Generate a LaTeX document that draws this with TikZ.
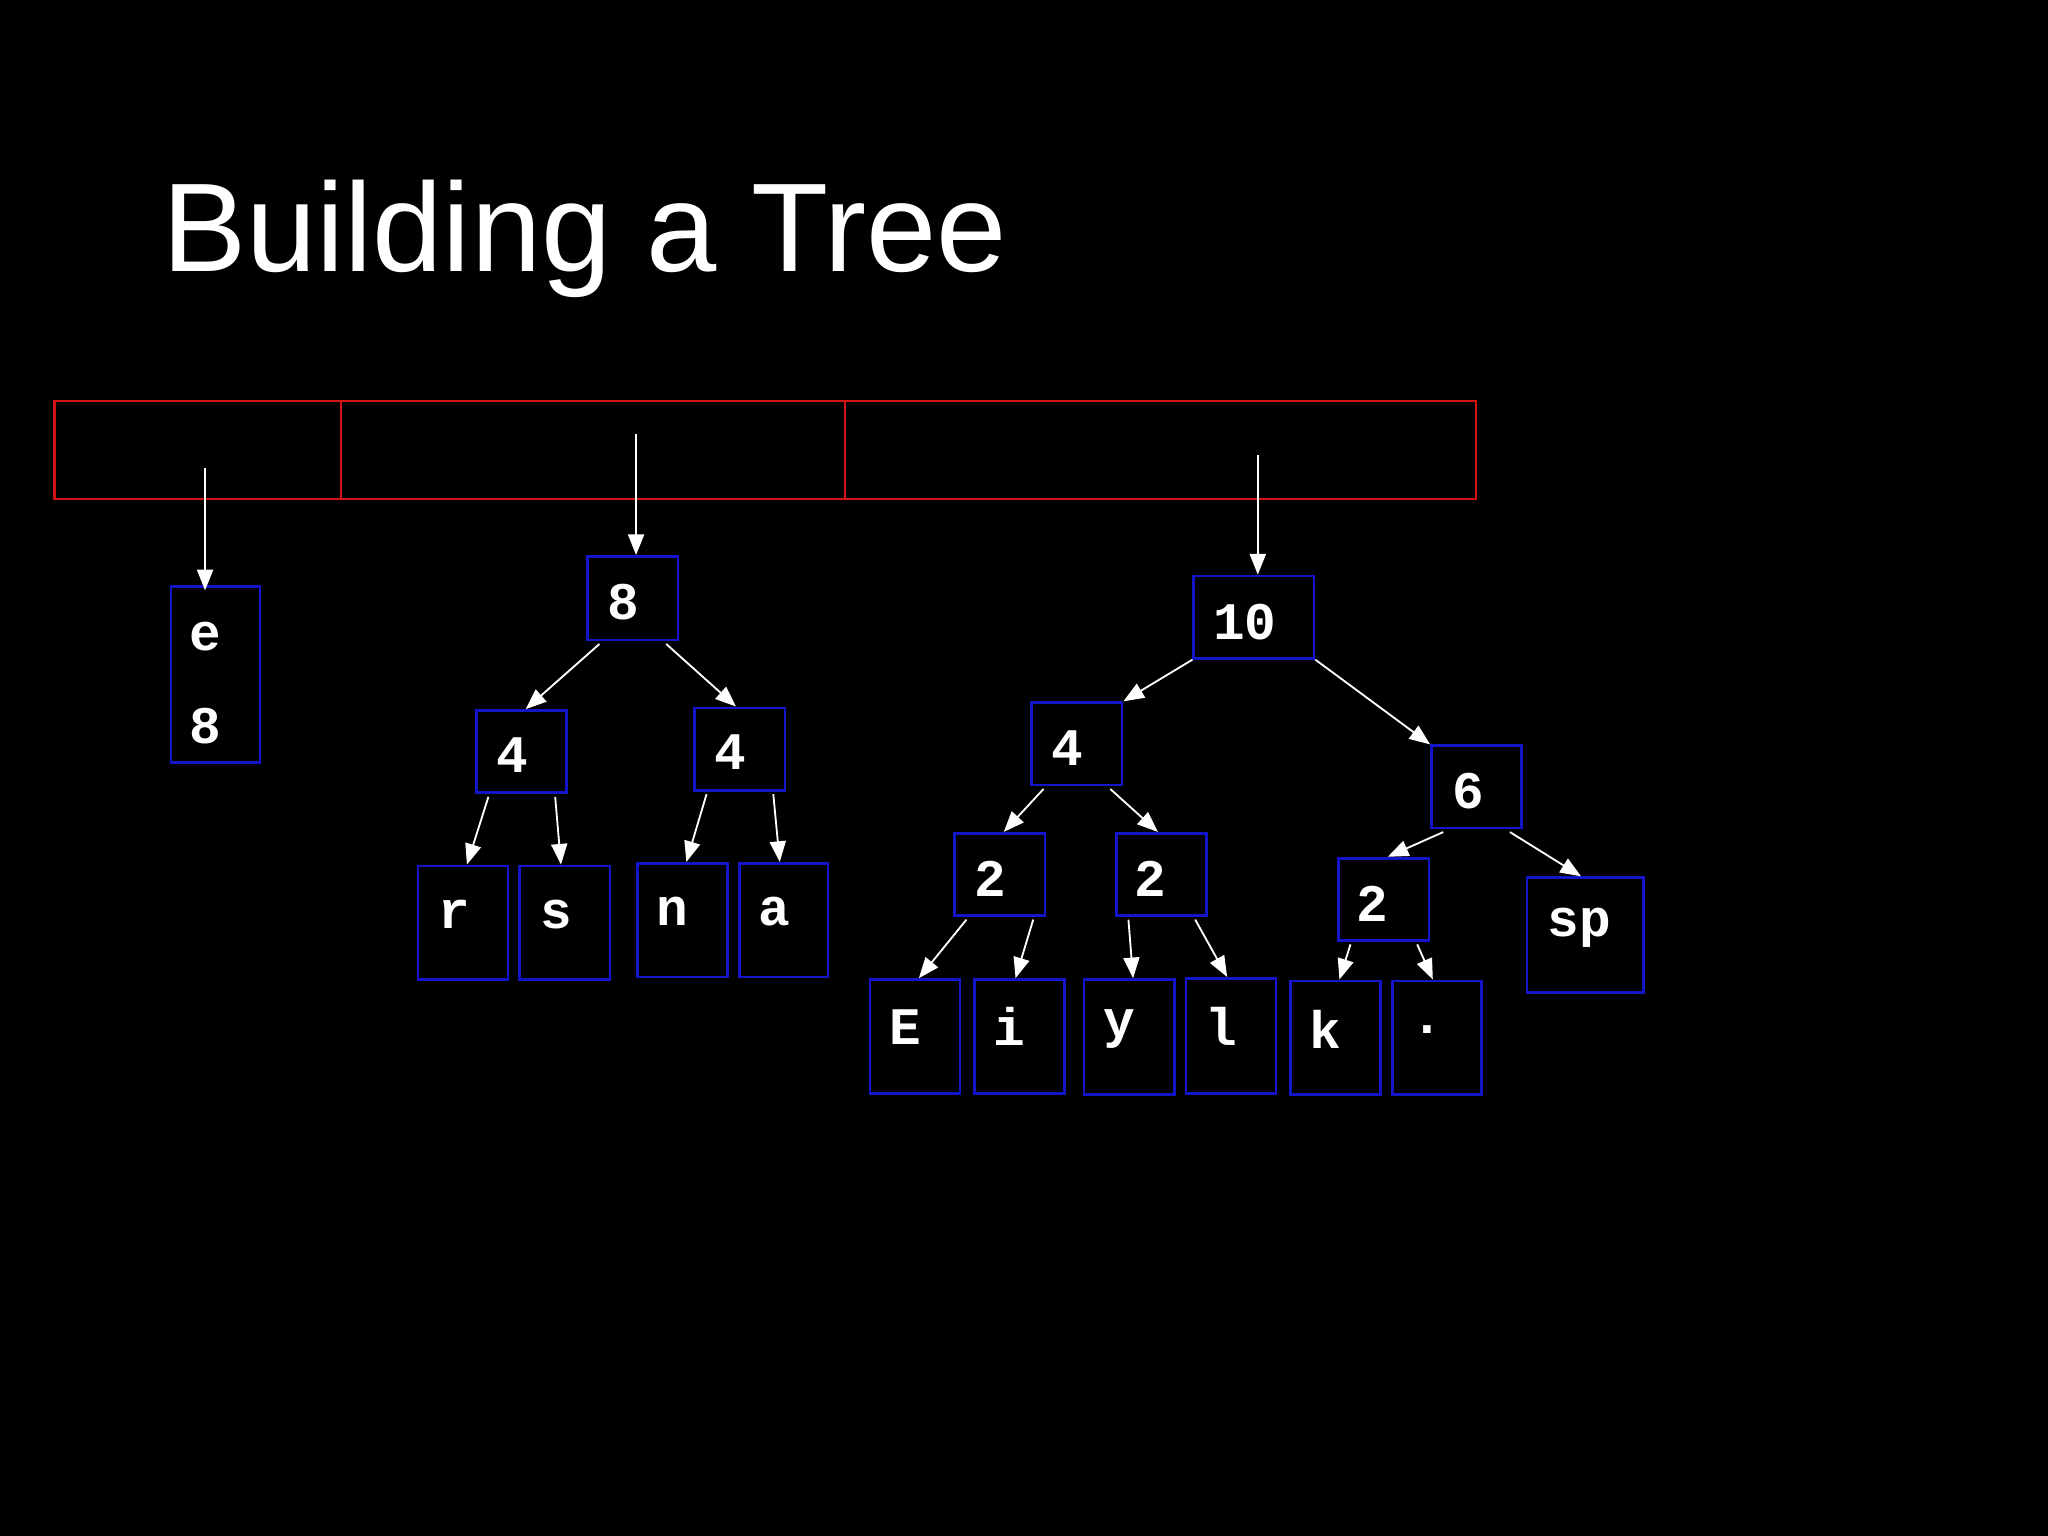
\documentclass[tikz,border=0pt]{standalone}
\usepackage{fontspec}
\setmainfont{Liberation Sans}
\newfontfamily\boxfont{Liberation Mono}
\usetikzlibrary{arrows.meta}
\definecolor{boxblue}{RGB}{20,20,200}
\definecolor{boxred}{RGB}{210,20,20}
\begin{document}
\begin{tikzpicture}[x=0.02cm,y=-0.02cm,
  bx/.style={draw=boxblue,line width=1.2pt,inner sep=0pt},
  txt/.style={text=white,font=\boxfont\bfseries\fontsize{23}{23}\selectfont,inner sep=0pt},
  arr/.style={draw=white,line width=0.8pt,-{Triangle[length=9pt,width=7pt]}}]
\fill[black] (0,0) rectangle (1568,1176);
\useasboundingbox (0,0) rectangle (1568,1176);
\node[text=white,font=\fontsize{55}{55}\selectfont,anchor=base west,inner sep=0pt] (title) at (124,208) {Building a Tree};
\draw[boxred,line width=1.2pt] (42,307) rectangle (1130,382) (261,307) -- (261,382) (647,307) -- (647,382);
\newcommand\bnode[5]{\node[bx,minimum width={(#4-#2)*0.02cm},minimum height={(#5-#3)*0.02cm}] (#1) at ({(#2+#4)/2},{(#3+#5)/2}) {};}
\bnode{ee}{131}{449}{199}{584}
\bnode{n8}{450}{426}{519}{490}
\bnode{a4}{365}{544}{434}{607}
\bnode{b4}{532}{542}{601}{605}
\bnode{r}{320}{663}{389}{750}
\bnode{s}{398}{663}{467}{750}
\bnode{n}{488}{661}{557}{748}
\bnode{a}{566}{661}{634}{748}
\bnode{t10}{914}{441}{1006}{504}
\bnode{c4}{790}{538}{859}{601}
\bnode{d6}{1096}{571}{1165}{634}
\bnode{p2}{731}{638}{800}{701}
\bnode{q2}{855}{638}{924}{701}
\bnode{u2}{1025}{657}{1094}{720}
\bnode{sp}{1169}{672}{1258}{760}
\bnode{E}{666}{750}{735}{837}
\bnode{i}{746}{750}{815}{837}
\bnode{y}{830}{750}{899}{838}
\bnode{l}{908}{749}{977}{837}
\bnode{k}{988}{751}{1057}{838}
\bnode{dot}{1066}{751}{1134}{838}
\node[txt] (te) at (157,487) {e};
\node[txt] (te8) at (157,556) {8};
\node[txt] at (477,461) {8};
\node[txt] at (392,578) {4};
\node[txt] at (559,576) {4};
\node[txt] at (348,700) {r};
\node[txt] at (426,700) {s};
\node[txt] at (515,698) {n};
\node[txt] at (593,698) {a};
\node[txt] at (953,476) {10};
\node[txt] at (817,573) {4};
\node[txt] at (1124,606) {6};
\node[txt] at (758,673) {2};
\node[txt] at (881,673) {2};
\node[txt] at (1051,692) {2};
\node[txt] at (1209,710) {sp};
\node[txt] at (693,786) {E};
\node[txt] at (773,786) {i};
\node[txt] at (857,788) {y};
\node[txt] at (935,786) {l};
\node[txt] at (1015,788) {k};
\node[txt] at (1093,788) {.};
\coordinate (s1) at (157,358);
\coordinate (s2) at (487,332);
\coordinate (s3) at (963,348);
\draw[arr] (s1) -- (157,452);
\draw[arr] (s2) -- (n8.north -| s2);
\draw[arr] (s3) -- (t10.north -| s3);
\foreach \p/\c in {n8/a4,a4/r,b4/n,c4/p2,d6/u2,p2/E,q2/y,u2/k}
  \draw[arr] ([xshift=0.2cm,yshift=-0.04cm]\p.south west) -- ([xshift=0.06cm]\c.north);
\foreach \p/\c in {n8/b4,a4/s,b4/a,c4/q2,d6/sp,p2/i,q2/l,u2/dot}
  \draw[arr] ([xshift=-0.2cm,yshift=-0.04cm]\p.south east) -- ([xshift=-0.06cm]\c.north);
\draw[arr] (t10.south west) -- (c4.north east);
\draw[arr] (t10.south east) -- (d6.north west);
\end{tikzpicture}
\end{document}
